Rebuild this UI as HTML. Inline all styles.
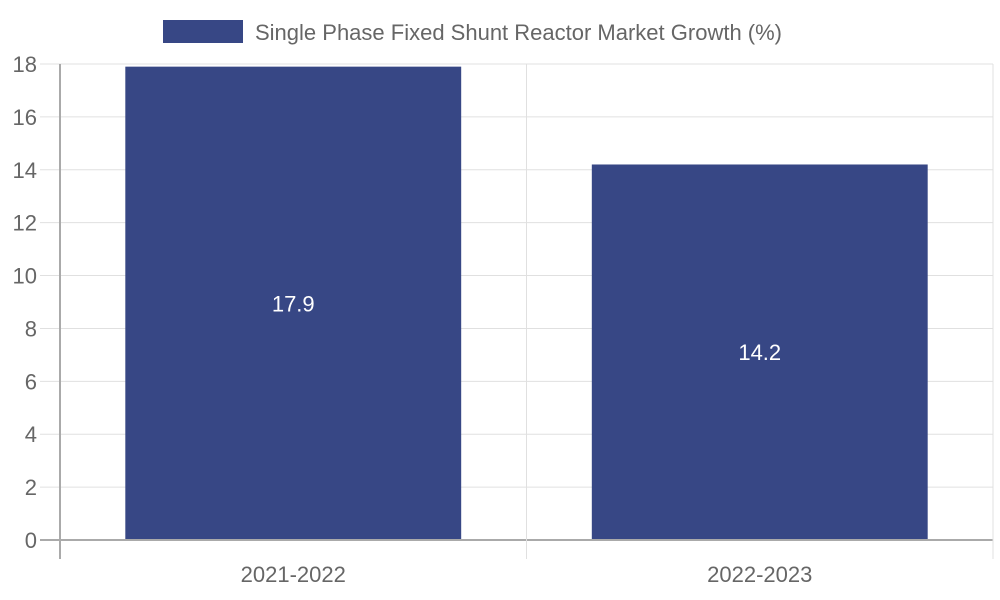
<!DOCTYPE html>
<html><head><meta charset="utf-8"><style>
body{margin:0;background:#fff;}
svg{display:block;font-family:"Liberation Sans",sans-serif;}
</style></head><body>
<svg id="chart" width="1000" height="600">
<g id="legend">
<rect x="163" y="20" width="80" height="23" fill="#374785"/>
<text x="255" y="40" font-size="22" fill="#666">Single Phase Fixed Shunt Reactor Market Growth (%)</text>
</g>
<g id="grid"></g><g id="bars"></g><g id="labels"></g>
</svg>
<script>
const categories = ["2021-2022", "2022-2023"];
const values = [17.9, 14.2];
const yTicks = [0, 2, 4, 6, 8, 10, 12, 14, 16, 18];
const NS = "http://www.w3.org/2000/svg";
const L = 60, R = 993, T = 64, B = 540, yMax = 18;
const y = v => B - v / yMax * (B - T);
const bw = (R - L) / categories.length;
const x = i => L + i * bw;
function mk(tag, attrs, parent, text) {
  const e = document.createElementNS(NS, tag);
  for (const k in attrs) e.setAttribute(k, attrs[k]);
  if (text !== undefined) e.textContent = text;
  parent.appendChild(e); return e;
}
const grid = document.getElementById("grid"), bars = document.getElementById("bars"), labels = document.getElementById("labels");
yTicks.forEach(t => {
  const ln = mk("line", {x1: 40, x2: R, y1: y(t), y2: y(t), stroke: t === 0 ? "#aaa" : "#e0e0e0", "stroke-width": t === 0 ? 2 : 1}, grid);
  
  
  const tx = mk("text", {x: 37, y: y(t) + 8, "text-anchor": "end", "font-size": 22, fill: "#666"}, grid, t);
  
  
});
for (let i = 0; i <= categories.length; i++) {
  const ln = mk("line", {x1: x(i), x2: x(i), y1: T, y2: 559, stroke: i === 0 ? "#aaa" : "#e0e0e0", "stroke-width": i === 0 ? 2 : 1}, grid);
  
  
}
categories.forEach((c, i) => {
  const w = bw * 0.72, bx = x(i) + (bw - w) / 2;
  const r = mk("rect", {x: bx, y: y(values[i]), width: w, height: B - 1 - y(values[i]), fill: "#374785"}, bars);
  
  
  const v = mk("text", {x: bx + w / 2, y: (y(values[i]) + B) / 2 + 8, "text-anchor": "middle", "font-size": 22, fill: "#fff"}, labels, values[i]);
  
  
  const cl = mk("text", {x: x(i) + bw / 2, y: 582, "text-anchor": "middle", "font-size": 22, fill: "#666"}, labels, c);
  
  
});
</script>
</body></html>
